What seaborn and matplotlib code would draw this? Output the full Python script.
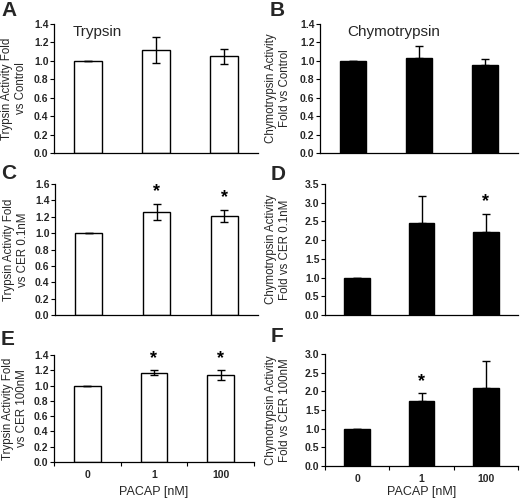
import matplotlib
matplotlib.use("Agg")
import matplotlib.pyplot as plt
import seaborn as sns
import numpy as np
import pandas as pd

sns.set_theme(style="ticks")
plt.rcParams['font.family'] = ['Liberation Sans', 'DejaVu Sans']

doses = ["0", "1", "100"]

trypsin_ctrl = [1.0, 1.12, 1.05]
trypsin_ctrl_err = [0.0, 0.14, 0.08]
chymo_ctrl = [1.0, 1.03, 0.955]
chymo_ctrl_err = [0.0, 0.13, 0.06]

trypsin_cer01 = [1.0, 1.26, 1.21]
trypsin_cer01_err = [0.0, 0.10, 0.07]
chymo_cer01 = [1.0, 2.47, 2.22]
chymo_cer01_err = [0.0, 0.71, 0.49]

trypsin_cer100 = [1.0, 1.17, 1.14]
trypsin_cer100_err = [0.0, 0.035, 0.065]
chymo_cer100 = [1.0, 1.75, 2.1]
chymo_cer100_err = [0.0, 0.2, 0.7]

stars_A = [False, False, False]
stars_B = [False, False, False]
stars_C = [False, True, True]
stars_D = [False, False, True]
stars_E = [False, True, True]
stars_F = [False, True, False]

W, H = 524, 500
fig = plt.figure(figsize=(W / 100, H / 100), dpi=100)

def rect(l, r, t, b):
    return [l / W, (H - b) / H, (r - l) / W, (b - t) / H]

panels = [
    dict(px=(54, 258, 24, 153), vals=trypsin_ctrl, err=trypsin_ctrl_err, stars=stars_A,
         ylim=1.4, step=0.2, color="white", both=True, lab_r=27,
         ylabel="Trypsin Activity Fold\nvs Control", letter="A", lx=1, ly=1, title="Trypsin", tx=73, bottom=False),
    dict(px=(320, 518, 24, 153), vals=chymo_ctrl, err=chymo_ctrl_err, stars=stars_B,
         ylim=1.4, step=0.2, color="black", both=False, lab_r=291,
         ylabel="Chymotrypsin Activity\nFold vs Control", letter="B", lx=270, ly=1, title="Chymotrypsin", tx=347, bottom=False),
    dict(px=(55, 258, 184, 315), vals=trypsin_cer01, err=trypsin_cer01_err, stars=stars_C,
         ylim=1.6, step=0.2, color="white", both=True, lab_r=29,
         ylabel="Trypsin Activity Fold\nvs CER 0.1nM", letter="C", lx=1, ly=164, title=None, tx=0, bottom=False),
    dict(px=(325, 518, 184, 315), vals=chymo_cer01, err=chymo_cer01_err, stars=stars_D,
         ylim=3.5, step=0.5, color="black", both=False, lab_r=291,
         ylabel="Chymotrypsin Activity\nFold vs CER 0.1nM", letter="D", lx=271, ly=165, title=None, tx=0, bottom=False),
    dict(px=(54, 254, 355, 462), vals=trypsin_cer100, err=trypsin_cer100_err, stars=stars_E,
         ylim=1.4, step=0.2, color="white", both=True, lab_r=28,
         ylabel="Trypsin Activity Fold\nvs CER 100nM", letter="E", lx=1, ly=330, title=None, tx=0, bottom=True),
    dict(px=(325, 518, 354, 466), vals=chymo_cer100, err=chymo_cer100_err, stars=stars_F,
         ylim=3.0, step=0.5, color="black", both=False, lab_r=291,
         ylabel="Chymotrypsin Activity\nFold vs CER 100nM", letter="F", lx=271, ly=327, title=None, tx=0, bottom=True),
]

for p in panels:
    l, r, t, b = p["px"]
    ax = fig.add_axes(rect(l, r, t, b))
    df = pd.DataFrame({"dose": doses, "val": p["vals"]})
    sns.barplot(data=df, x="dose", y="val", ax=ax, color=p["color"], edgecolor="black",
                linewidth=1.0, width=0.4, errorbar=None, saturation=1)
    x = np.arange(len(doses))
    err = np.array(p["err"])
    if p["both"]:
        yerr = err
    else:
        yerr = np.vstack([np.zeros_like(err), err])
    ax.errorbar(x, p["vals"], yerr=yerr, fmt="none", ecolor="black", elinewidth=1.0,
                capsize=3, capthick=1.0)
    for xi, v, e, s in zip(x, p["vals"], p["err"], p["stars"]):
        if s:
            ax.text(xi, v + e + p["ylim"] * 0.03, "*", ha="center", va="bottom",
                    fontsize=13, fontweight="bold", color="black")
    ax.set_xlim(-0.5, 2.5)
    ax.set_ylim(0, p["ylim"])
    ticks = np.arange(0, p["ylim"] + 1e-9, p["step"])
    ax.set_yticks(ticks)
    ax.set_yticklabels(["{:.1f}".format(tk) for tk in ticks], fontsize=7.5, fontweight="bold")
    ax.tick_params(axis="y", length=3, width=0.8, pad=1, color="black")
    for side in ["top", "right"]:
        ax.spines[side].set_visible(False)
    for side in ["left", "bottom"]:
        ax.spines[side].set_color("black")
        ax.spines[side].set_linewidth(0.9)
    ax.set_ylabel(p["ylabel"], fontsize=8.3, linespacing=1.2)
    ax.yaxis.set_label_coords((p["lab_r"] - l) / (r - l), 0.5)
    if p["bottom"]:
        ax.set_xticks([-0.5, 0.5, 1.5, 2.5], minor=False)
        ax.set_xticklabels([])
        ax.set_xticks(x, minor=True)
        ax.set_xticklabels(doses, minor=True, fontsize=7.5, fontweight="bold")
        ax.tick_params(axis="x", which="major", length=3, width=0.8, color="black")
        ax.tick_params(axis="x", which="minor", length=0, pad=6)
        ax.set_xlabel("PACAP [nM]", fontsize=9)
        ax.xaxis.set_label_coords(0.5, (b - 486) / (b - t))
    else:
        ax.set_xticks([])
        ax.set_xlabel("")
    if p["title"]:
        ax.text((p["tx"] - l) / (r - l), 0.99, p["title"], transform=ax.transAxes,
                fontsize=11, ha="left", va="top")
    fig.text(p["lx"] / W, 1 - p["ly"] / H, p["letter"], fontsize=15, fontweight="bold",
             ha="left", va="top")

fig.savefig("out.png", dpi=100, facecolor="white")
